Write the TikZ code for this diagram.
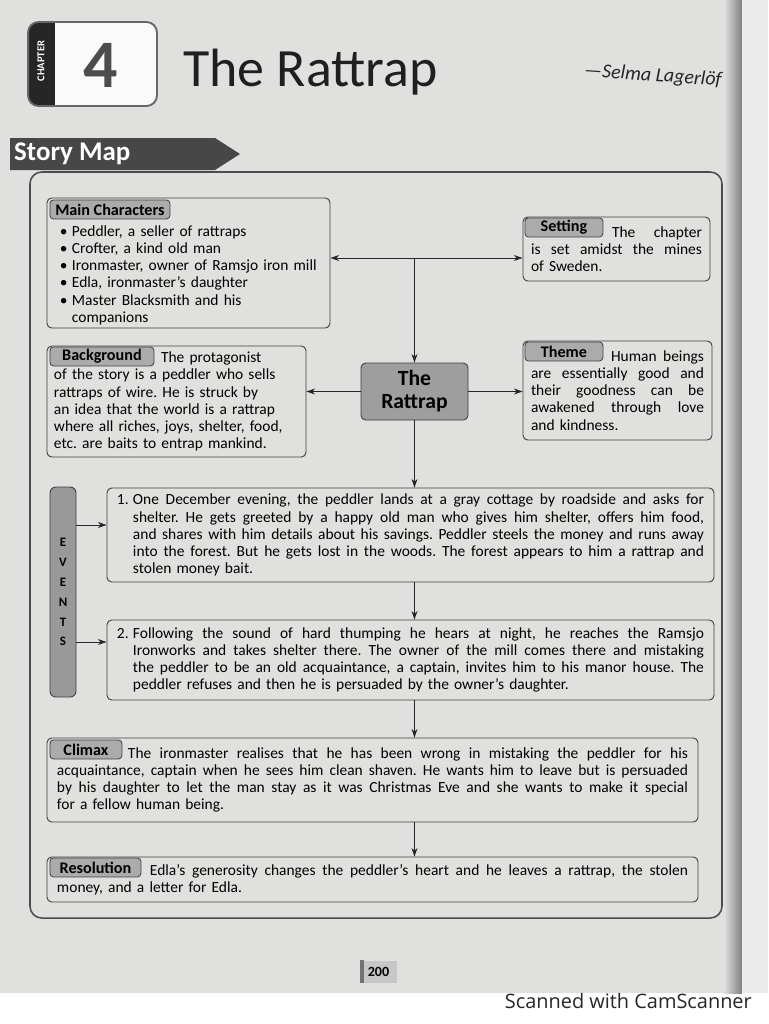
\documentclass[tikz,border=0pt]{standalone}
\usepackage{fontspec}
\setmainfont{Carlito}
\newfontfamily\scanfont{Open Sans}
\usetikzlibrary{arrows.meta}
\usetikzlibrary{positioning}

\definecolor{pagegray}{RGB}{224,224,222}
\newcommand{\mapfont}{\fontsize{13.2}{14.6}\selectfont\frenchspacing}
\newcommand{\jl}[1]{\makebox[\linewidth][s]{\spaceskip=0pt\xspaceskip=0pt #1}}
\newcommand{\bul}{\makebox[3.6mm][l]{\textbullet}}
\newcommand{\evnum}[1]{\makebox[4.8mm][l]{#1}}

\begin{document}
\begin{tikzpicture}[x=0.3mm,y=-0.3mm,
  mapbox/.style={draw=black!75,line width=0.8pt,rounded corners=4pt,inner xsep=2.4mm,inner ysep=0.8mm,align=left,font=\mapfont},
  tabbox/.style={draw=black!75,fill=black!33,line width=0.7pt,rounded corners=3pt,inner sep=0pt,minimum height=5.7mm,font=\fontsize{13.8}{14}\selectfont\bfseries,anchor=north west},
  hubbox/.style={draw=black!75,fill=black!38,line width=0.8pt,rounded corners=4pt,align=center},
  link/.style={-{Stealth[length=2.6mm,width=1.8mm]},line width=0.7pt,draw=black!85}]
\useasboundingbox (0,0) rectangle (768,1024);
\fill[white] (0,0) rectangle (768,1024);
\fill[pagegray] (0,0) rectangle (768,993);
\shade[left color=pagegray,right color=black!50] (724,0) rectangle (742,993);
\fill[black!8] (742,0) rectangle (768,993);

% heading
\fill[white!85!pagegray,rounded corners=9pt] (28,22) rectangle (157,106);
\begin{scope}
\clip[rounded corners=9pt] (28,22) rectangle (157,106);
\fill[black!85] (28,22) rectangle (55,106);
\end{scope}
\draw[black!60,line width=1.6pt,rounded corners=9pt] (28,22) rectangle (157,106);
\node[rotate=90,text=white,font=\fontsize{9}{9}\selectfont\bfseries,inner sep=0pt] (chapword) at (41,61) {CHAPTER};
\node[font=\fontsize{58}{58}\selectfont\bfseries,text=black!70,inner sep=0pt,anchor=base] (chapnum) at (101,87) {4};
\node[font=\fontsize{46}{46}\selectfont,text=black!88,inner sep=0pt,anchor=base west] (title) at (183,86) {The Rattrap};
\node[font=\fontsize{17}{17}\selectfont\itshape,text=black!85,rotate=-4] (author) at (653,76) {---Selma Lagerl\"of};

% story map banner
\fill[black!72] (10,138) -- (215,138) -- (240,154) -- (215,170) -- (10,170) -- cycle;
\node[font=\fontsize{23}{23}\selectfont\bfseries,text=white,anchor=west,inner sep=0pt] (storymap) at (14,154) {Story Map};
\draw[black!70,line width=1.3pt,rounded corners=10pt] (30,172) rectangle (722,918);

% boxes
\node[mapbox,inner xsep=3.9mm,text width=77.1mm,minimum height=39mm] (chars) at (188.5,263) {%
\rule{0pt}{10.6mm}\bul Peddler, a seller of rattraps\\
\bul Crofter, a kind old man\\
\bul Ironmaster, owner of Ramsjo iron mill\\
\bul Edla, ironmaster's daughter\\
\bul Master Blacksmith and his\\
\hspace*{3.6mm}companions};
\node[tabbox,minimum width=36mm] (charstab) at ([xshift=0.9mm,yshift=-0.6mm]chars.north west) {Main Characters};

\node[mapbox,text width=51.3mm,minimum height=19.2mm] (setting) at (616.5,249) {%
\jl{\hspace*{24.3mm}The chapter}\\
\jl{is set amidst the mines}\\
of Sweden.};
\node[tabbox,minimum width=23.4mm] (settingtab) at ([xshift=0.6mm,yshift=-0.3mm]setting.north west) {Setting};

\node[mapbox,text width=51.9mm,minimum height=29.7mm] (theme) at (617.5,390.5) {%
\jl{\hspace*{24mm}Human beings}\\
\jl{are essentially good and}\\
\jl{their goodness can be}\\
\jl{awakened through love}\\
and kindness.};
\node[tabbox,minimum width=23.4mm] (themetab) at ([xshift=0.6mm,yshift=-0.3mm]theme.north west) {Theme};

\node[mapbox,inner xsep=2.1mm,text width=73.5mm,minimum height=33.3mm] (backgr) at (176.5,401.5) {%
\hspace*{32.1mm}The protagonist\\
of the story is a peddler who sells\\
rattraps of wire. He is struck by\\
an idea that the world is a rattrap\\
where all riches, joys, shelter, food,\\
etc. are baits to entrap mankind.};
\node[tabbox,minimum width=31.2mm] (backgrtab) at ([xshift=0.9mm,yshift=-0.3mm]backgr.north west) {Background};

\node[hubbox,minimum width=32.1mm,minimum height=17.1mm,font=\fontsize{18.5}{19.5}\selectfont\bfseries] (rattrap) at (414.5,391.5) {The\\Rattrap};

\node[hubbox,fill=black!40,rounded corners=5pt,minimum width=7.8mm,minimum height=63mm,font=\fontsize{11}{17}\selectfont\bfseries] (events) at (63,592) {E\\V\\E\\N\\T\\S};

\node[mapbox,inner xsep=3mm,text width=176.1mm,minimum height=28.2mm] (ev1) at (410.5,535) {%
\jl{\evnum{1.}One December evening, the peddler lands at a gray cottage by roadside and asks for}\\
\jl{\hspace*{4.8mm}shelter. He gets greeted by a happy old man who gives him shelter, offers him food,}\\
\jl{\hspace*{4.8mm}and shares with him details about his savings. Peddler steels the money and runs away}\\
\jl{\hspace*{4.8mm}into the forest. But he gets lost in the woods. The forest appears to him a rattrap and}\\
\hspace*{4.8mm}stolen money bait.};

\node[mapbox,inner xsep=3mm,text width=176.1mm,minimum height=24mm] (ev2) at (410.5,660) {%
\jl{\evnum{2.}Following the sound of hard thumping he hears at night, he reaches the Ramsjo}\\
\jl{\hspace*{4.8mm}Ironworks and takes shelter there. The owner of the mill comes there and mistaking}\\
\jl{\hspace*{4.8mm}the peddler to be an old acquaintance, a captain, invites him to his manor house. The}\\
\hspace*{4.8mm}peddler refuses and then he is persuaded by the owner's daughter.};

\node[mapbox,inner xsep=3mm,text width=189.3mm,minimum height=25.2mm] (climax) at (372.5,780) {%
\jl{\hspace*{21.3mm}The ironmaster realises that he has been wrong in mistaking the peddler for his}\\
\jl{acquaintance, captain when he sees him clean shaven. He wants him to leave but is persuaded}\\
\jl{by his daughter to let the man stay as it was Christmas Eve and she wants to make it special}\\
for a fellow human being.};
\node[tabbox,minimum width=21.6mm] (climaxtab) at ([xshift=0.9mm,yshift=-0.6mm]climax.north west) {Climax};

\node[mapbox,inner xsep=3mm,text width=189.3mm,minimum height=13.5mm] (resol) at (372.5,879.5) {%
\jl{\hspace*{27.9mm}Edla's generosity changes the peddler's heart and he leaves a rattrap, the stolen}\\
money, and a letter for Edla.};
\node[tabbox,minimum width=27.3mm] (resoltab) at ([xshift=0.9mm,yshift=-0.3mm]resol.north west) {Resolution};

% connectors
\coordinate (hub) at (414.5,258);
\draw[link] (hub) -- (hub -| chars.east);
\draw[link] (hub) -- (hub -| setting.west);
\draw[link] (hub) -- (rattrap.north);
\draw[link] (rattrap.west) -- (rattrap.west -| backgr.east);
\draw[link] (rattrap.east) -- (rattrap.east -| theme.west);
\draw[link] (rattrap.south) -- (rattrap.south |- ev1.north);
\draw[link] (rattrap.south |- ev1.south) -- (rattrap.south |- ev2.north);
\draw[link] (rattrap.south |- ev2.south) -- (rattrap.south |- climax.north);
\draw[link] (rattrap.south |- climax.south) -- (rattrap.south |- resol.north);
\coordinate (ev1in) at ([yshift=3mm]ev1.west);
\coordinate (ev2in) at ([yshift=5.4mm]ev2.west);
\draw[link] (ev1in -| events.east) -- (ev1in);
\draw[link] (ev2in -| events.east) -- (ev2in);

% page number and footer
\node[fill=black!22,font=\fontsize{12}{12}\selectfont\bfseries,minimum width=11mm,minimum height=6.6mm,inner sep=0pt] (pagenum) at (378.5,971.5) {200};
\fill[black!55] (pagenum.north west) rectangle ([xshift=1.2mm]pagenum.south west);
\node[font=\scanfont\fontsize{17}{17}\selectfont,text=black!85,anchor=east,inner sep=0pt] (scan) at (752,1001) {Scanned with CamScanner};
\end{tikzpicture}
\end{document}
